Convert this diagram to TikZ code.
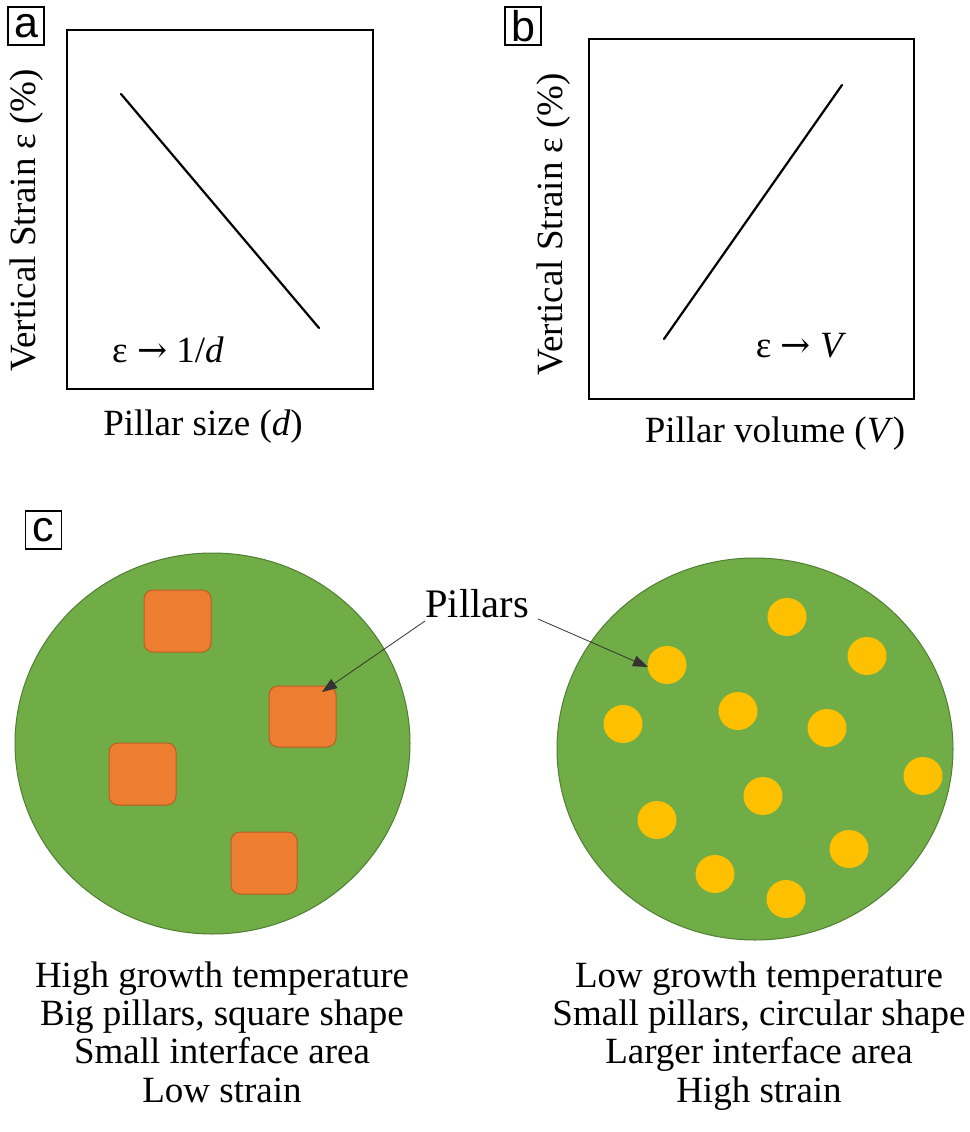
\documentclass[tikz,border=0pt]{standalone}
\usepackage{fontspec}
\setmainfont{Liberation Serif}
\newfontfamily\panelfont{Liberation Sans}
\newfontfamily\arrowfont{DejaVu Serif}
\usetikzlibrary{arrows.meta}
\definecolor{matgreen}{HTML}{70AD47}
\definecolor{matgreenedge}{HTML}{507E32}
\definecolor{pilorange}{HTML}{ED7D31}
\definecolor{pilorangeedge}{HTML}{B85F22}
\definecolor{pilyellow}{HTML}{FFC000}
\newcommand\txtfont{\fontsize{37}{38}\selectfont}
\newcommand\rarr{{\arrowfont\fontsize{36}{38}\selectfont →}}
\tikzset{
  panellabel/.style={draw, line width=1.6pt, inner sep=0pt, minimum width=36pt, minimum height=38pt, font=\panelfont\fontsize{43}{43}\selectfont},
  plotbox/.style={draw, line width=1.8pt},
  trend/.style={line width=2.2pt, line cap=round},
  axislabel/.style={font=\txtfont, inner sep=0pt},
  caption/.style={font=\txtfont, inner sep=0pt, anchor=base},
  matrixdisk/.style={fill=matgreen, draw=matgreenedge, line width=1pt},
  bigpillar/.style={fill=pilorange, draw=pilorangeedge, line width=1pt, rounded corners=9pt},
  smallpillar/.style={fill=pilyellow, draw=none},
  pointer/.style={draw=black!80, line width=0.8pt, -{Triangle[length=15pt,width=11pt]}}
}
\begin{document}
\begin{tikzpicture}[x=1pt,y=-1pt]
\useasboundingbox (0,0) rectangle (969,1132);

% ---------- panel a ----------
\node[panellabel] (la) at (26,26) {a};
\draw[plotbox] (67,30) rectangle (373,389);
\coordinate (a1) at (121,94);
\coordinate (a2) at (319,328);
\draw[trend] (a1) -- (a2);
\node[axislabel, anchor=base] (aeq) at (168,362) {ε \rarr{} 1/\textit{d}};
\node[axislabel, anchor=base] (ax) at (203,435) {Pillar size (\textit{d})};
\node[axislabel, anchor=base, rotate=90] (ay) at (35,220) {Vertical Strain ε (\%)};

% ---------- panel b ----------
\node[panellabel] (lb) at (523,26) {b};
\draw[plotbox] (589,39) rectangle (914,399);
\coordinate (b1) at (664,339);
\coordinate (b2) at (842,85);
\draw[trend] (b1) -- (b2);
\node[axislabel, anchor=base] (beq) at (801,357) {ε \rarr{} \textit{V}};
\node[axislabel, anchor=base] (bx) at (775,442) {Pillar volume (\textit{V})};
\node[axislabel, anchor=base, rotate=90] (by) at (562,224) {Vertical Strain ε (\%)};

% ---------- panel c ----------
\node[panellabel] (lc) at (43.5,530) {c};

% left disk
\draw[matrixdisk] (212.5,743.5) ellipse [x radius=197.5pt, y radius=190.5pt];
\draw[bigpillar] (144,590) rectangle (211,652);
\draw[bigpillar] (269,686) rectangle (336,747);
\draw[bigpillar] (109,743) rectangle (176,805);
\draw[bigpillar] (231,832) rectangle (297,894);

% right disk
\draw[matrixdisk] (755,749) ellipse [x radius=198pt, y radius=191pt];
\foreach \cx/\cy/\nm in {787/617/p1, 867/656/p2, 667/665/p3, 623/724/p4, 738/711/p5, 827/728/p6, 923/776/p7, 763/796/p8, 657/820/p9, 849/849/p10, 715/874/p11, 786/899/p12}{
  \fill[smallpillar] (\cx,\cy) ellipse [x radius=19.5pt, y radius=19pt];
  \coordinate (\nm) at (\cx,\cy);
}

% label and pointers
\node[font=\fontsize{40.5}{40}\selectfont, inner sep=0pt, anchor=base] (pil) at (477,617) {Pillars};
\coordinate (pilL) at (425,621);
\coordinate (pilR) at (538,619);
\coordinate (tipL) at (322,692);
\coordinate (tipR) at (648,667);
\draw[pointer] (pilL) -- (tipL);
\draw[pointer] (pilR) -- (tipR);

% captions
\node[caption] (l1) at (222,987) {High growth temperature};
\node[caption] (l2) at (222,1025) {Big pillars, square shape};
\node[caption] (l3) at (222,1063) {Small interface area};
\node[caption] (l4) at (222,1102) {Low strain};
\node[caption] (r1) at (759,987) {Low growth temperature};
\node[caption] (r2) at (759,1025) {Small pillars, circular shape};
\node[caption] (r3) at (759,1063) {Larger interface area};
\node[caption] (r4) at (759,1102) {High strain};
\end{tikzpicture}
\end{document}
